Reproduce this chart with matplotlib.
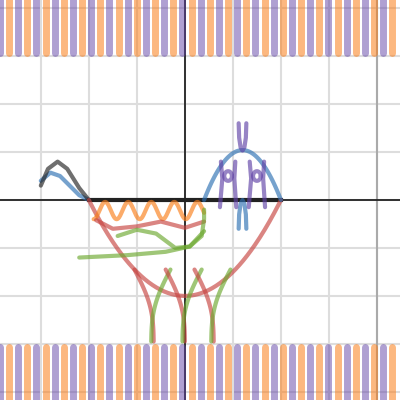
import numpy as np
import matplotlib.pyplot as plt

# Desmos-style colours
red = '#c74440'
blue = '#2d70b3'
green = '#6ca82f'
purple = '#6042a6'
orange = '#fa7e19'

# stripe bands (x positions in grid units)
stripe_x = np.arange(-3.85, 4.6, 0.19)

# body pieces as point lists (grid units)
tail_black_x = [-3.0, -2.85, -2.65, -2.45, -2.2, -2.0]
tail_black_y = [0.3, 0.65, 0.8, 0.65, 0.25, 0.0]
tail_blue_x = [-3.0, -2.8, -2.6, -2.4, -2.2, -2.0]
tail_blue_y = [0.4, 0.57, 0.5, 0.3, 0.1, 0.0]

red_wave_x = [-1.85, -1.5, -1.0, -0.5, 0.0, 0.4]
red_wave_y = [-0.42, -0.6, -0.55, -0.45, -0.58, -0.45]

green_wave_x = [-1.4, -1.0, -0.6, -0.2, 0.1, 0.4]
green_wave_y = [-0.75, -0.62, -0.7, -1.0, -0.97, -0.65]
green_line_x = [-2.2, -1.2, -0.4, 0.1, 0.35, 0.4, 0.4]
green_line_y = [-1.2, -1.15, -1.08, -0.97, -0.75, -0.4, -0.2]

fig, ax = plt.subplots(figsize=(4, 4), dpi=100)
fig.subplots_adjust(0, 0, 1, 1)
ax.set_xlim(-3.85, 4.48)
ax.set_ylim(-4.17, 4.17)
for g in np.arange(-3, 5):
    ax.axvline(g, color='#dddddd', lw=1.5, zorder=0)
for g in np.arange(-4, 5):
    ax.axhline(g, color='#dddddd', lw=1.5, zorder=0)
ax.axvline(4.0, color='#aaaaaa', lw=1.5, zorder=0)
ax.axhline(0, color='#222222', lw=1.3, zorder=1)
ax.axvline(0, color='#222222', lw=1.3, zorder=1)
ax.axis('off')

kw = dict(lw=3, alpha=0.65, solid_capstyle='round')

# top and bottom stripe bands
for i, sx in enumerate(stripe_x):
    c = purple if i % 2 == 0 else orange
    a = 0.5 if c == purple else 0.55
    for y0, y1 in [(3.0, 4.3), (-4.3, -3.0)]:
        ax.plot([sx, sx], [y0 + 0.06, y1 - 0.06], color=c, lw=5, alpha=a, solid_capstyle='round')

# back line
ax.plot([-2, 2], [0, 0], color='#222222', lw=3)
ax.plot(tail_blue_x, tail_blue_y, color=blue, **kw)
ax.plot(tail_black_x, tail_black_y, color='#222222', **kw)

# body
x = np.linspace(-2, 2, 200)
ax.plot(x, 0.5 * x ** 2 - 2, color=red, **kw)
x = np.linspace(-1.9, 0.4, 300)
ax.plot(x, -0.22 - 0.18 * np.cos(2 * np.pi * (x + 1.9) / 0.48), color=orange, **kw)
ax.plot(red_wave_x, red_wave_y, color=red, **kw)
ax.plot(green_wave_x, green_wave_y, color=green, **kw)
ax.plot(green_line_x, green_line_y, color=green, **kw)

# head
x = np.linspace(0.4, 2.0, 100)
ax.plot(x, 1.04 * (1 - ((x - 1.2) / 0.8) ** 2), color=blue, **kw)
# nose
ax.plot([1.12, 1.13, 1.16, 1.2, 1.24, 1.27, 1.28], [-0.6, -0.3, -0.08, 0.0, -0.08, -0.3, -0.6], color=blue, **kw)
# ears
ax.plot([1.12, 1.13, 1.16, 1.2, 1.24, 1.27, 1.28], [1.6, 1.3, 1.1, 1.03, 1.1, 1.3, 1.6], color=purple, **kw)
# eyes
t = np.linspace(0, 2 * np.pi, 40)
for ex in [0.9, 1.5]:
    ax.plot(ex + 0.08 * np.cos(t), 0.5 + 0.1 * np.sin(t), color=purple, **kw)
    ax.plot([ex - 0.15, ex - 0.12, ex - 0.17], [0.8, 0.45, -0.15], color=purple, **kw)
    ax.plot([ex + 0.15, ex + 0.13, ex + 0.17], [0.8, 0.45, -0.15], color=purple, **kw)

# legs
leg_start = [-1.05, -0.4, 0.2]
yy = np.linspace(-1.45, -2.95, 50)
for ls in leg_start:
    s = (yy + 1.45) / -1.5
    ax.plot(ls + 0.4 * s + 0.12 * np.sin(np.pi * s), yy, color=red, **kw)
    ax.plot(ls + 0.75 - 0.4 * s - 0.12 * np.sin(np.pi * s), yy, color=green, **kw)

fig.savefig('out.png', dpi=100)
